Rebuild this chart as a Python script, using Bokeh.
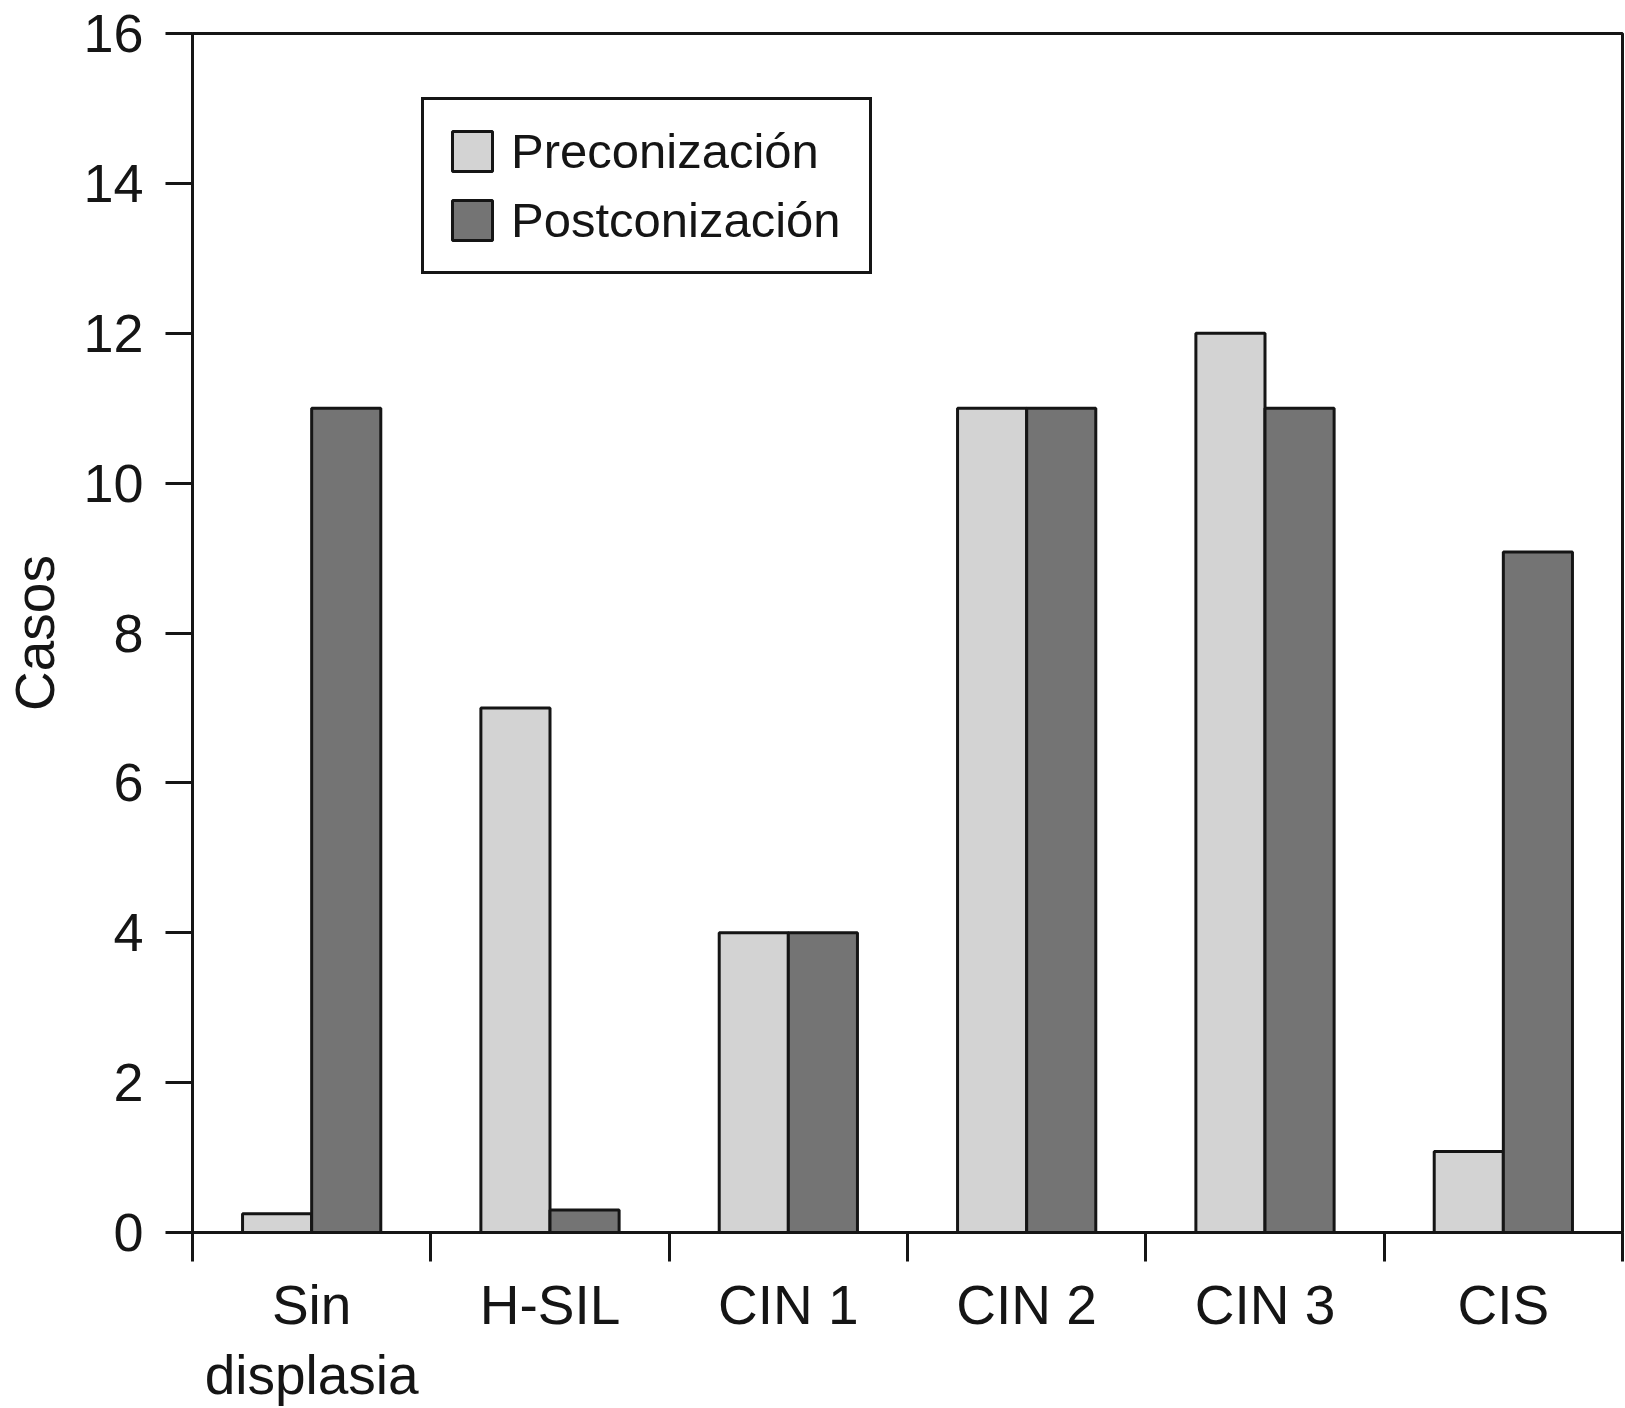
from bokeh.plotting import figure
from bokeh.models import FixedTicker, Legend, LegendItem, Range1d, ColumnDataSource
from bokeh.embed import file_html
from bokeh.resources import INLINE

categories = ["Sin\ndisplasia", "H-SIL", "CIN 1", "CIN 2", "CIN 3", "CIS"]
pre_values = [0.25, 7, 4, 11, 12, 1.08]
post_values = [11, 0.3, 4, 11, 11, 9.08]
series_names = ["Preconización", "Postconización"]
y_ticks = [0, 2, 4, 6, 8, 10, 12, 14, 16]

FONT = "Liberation Sans"
INK = "#151515"
n = len(categories)
bar_w = 0.29
centers = [i + 0.5 for i in range(n)]

src = ColumnDataSource(dict(
    xpre=[c - bar_w / 2 for c in centers],
    xpost=[c + bar_w / 2 for c in centers],
    pre=pre_values,
    post=post_values,
))

p = figure(width=1625, height=1408, output_backend="svg", toolbar_location=None,
           x_range=Range1d(0, n), y_range=Range1d(0, 16),
           min_border_left=192, min_border_right=3, min_border_top=33, min_border_bottom=175)

r1 = p.vbar(x="xpre", top="pre", width=bar_w, bottom=0, source=src,
            fill_color="#d3d3d3", line_color=INK, line_width=3)
r2 = p.vbar(x="xpost", top="post", width=bar_w, bottom=0, source=src,
            fill_color="#747474", line_color=INK, line_width=3)

p.xgrid.visible = False
p.ygrid.visible = False
p.outline_line_color = INK
p.outline_line_width = 3
p.outline_line_alpha = 1
p.background_fill_color = "white"
p.border_fill_color = "white"

# x axis: labels at category centers, ticks at category boundaries (minor)
xa = p.xaxis[0]
xa.ticker = FixedTicker(ticks=centers, minor_ticks=list(range(n + 1)))
xa.major_label_overrides = {c: lab for c, lab in zip(centers, categories)}
xa.major_tick_line_color = None
xa.major_tick_out = 29
xa.major_tick_in = 0
xa.minor_tick_out = 29
xa.minor_tick_in = 0
xa.minor_tick_line_color = INK
xa.minor_tick_line_width = 3
xa.axis_line_color = INK
xa.axis_line_width = 3
xa.major_label_text_font = FONT
xa.major_label_text_font_size = "55px"
xa.major_label_text_color = INK
xa.major_label_standoff = 12
xa.major_label_text_line_height = 1.13

ya = p.yaxis[0]
ya.ticker = FixedTicker(ticks=y_ticks, minor_ticks=[])
ya.major_tick_out = 27
ya.major_tick_in = 0
ya.major_tick_line_color = INK
ya.major_tick_line_width = 3
ya.axis_line_color = INK
ya.axis_line_width = 3
ya.major_label_text_font = FONT
ya.major_label_text_font_size = "54px"
ya.major_label_text_color = INK
ya.major_label_standoff = 22
ya.axis_label = "Casos"
ya.axis_label_text_font = FONT
ya.axis_label_text_font_size = "55px"
ya.axis_label_text_font_style = "normal"
ya.axis_label_text_color = INK
ya.axis_label_standoff = 14

legend = Legend(items=[LegendItem(label=series_names[0], renderers=[r1]),
                       LegendItem(label=series_names[1], renderers=[r2])],
                location=(229, 958))
legend.glyph_width = 50
legend.glyph_height = 50
legend.label_standoff = 14
legend.label_width = 335
legend.label_text_font = FONT
legend.label_text_font_size = "49px"
legend.label_text_color = INK
legend.padding = 23
legend.spacing = 13
legend.margin = 0
legend.border_line_color = INK
legend.border_line_width = 3
legend.border_line_alpha = 1
legend.background_fill_alpha = 1
p.add_layout(legend, "center")

open("out.html", "w").write(file_html(p, INLINE))
